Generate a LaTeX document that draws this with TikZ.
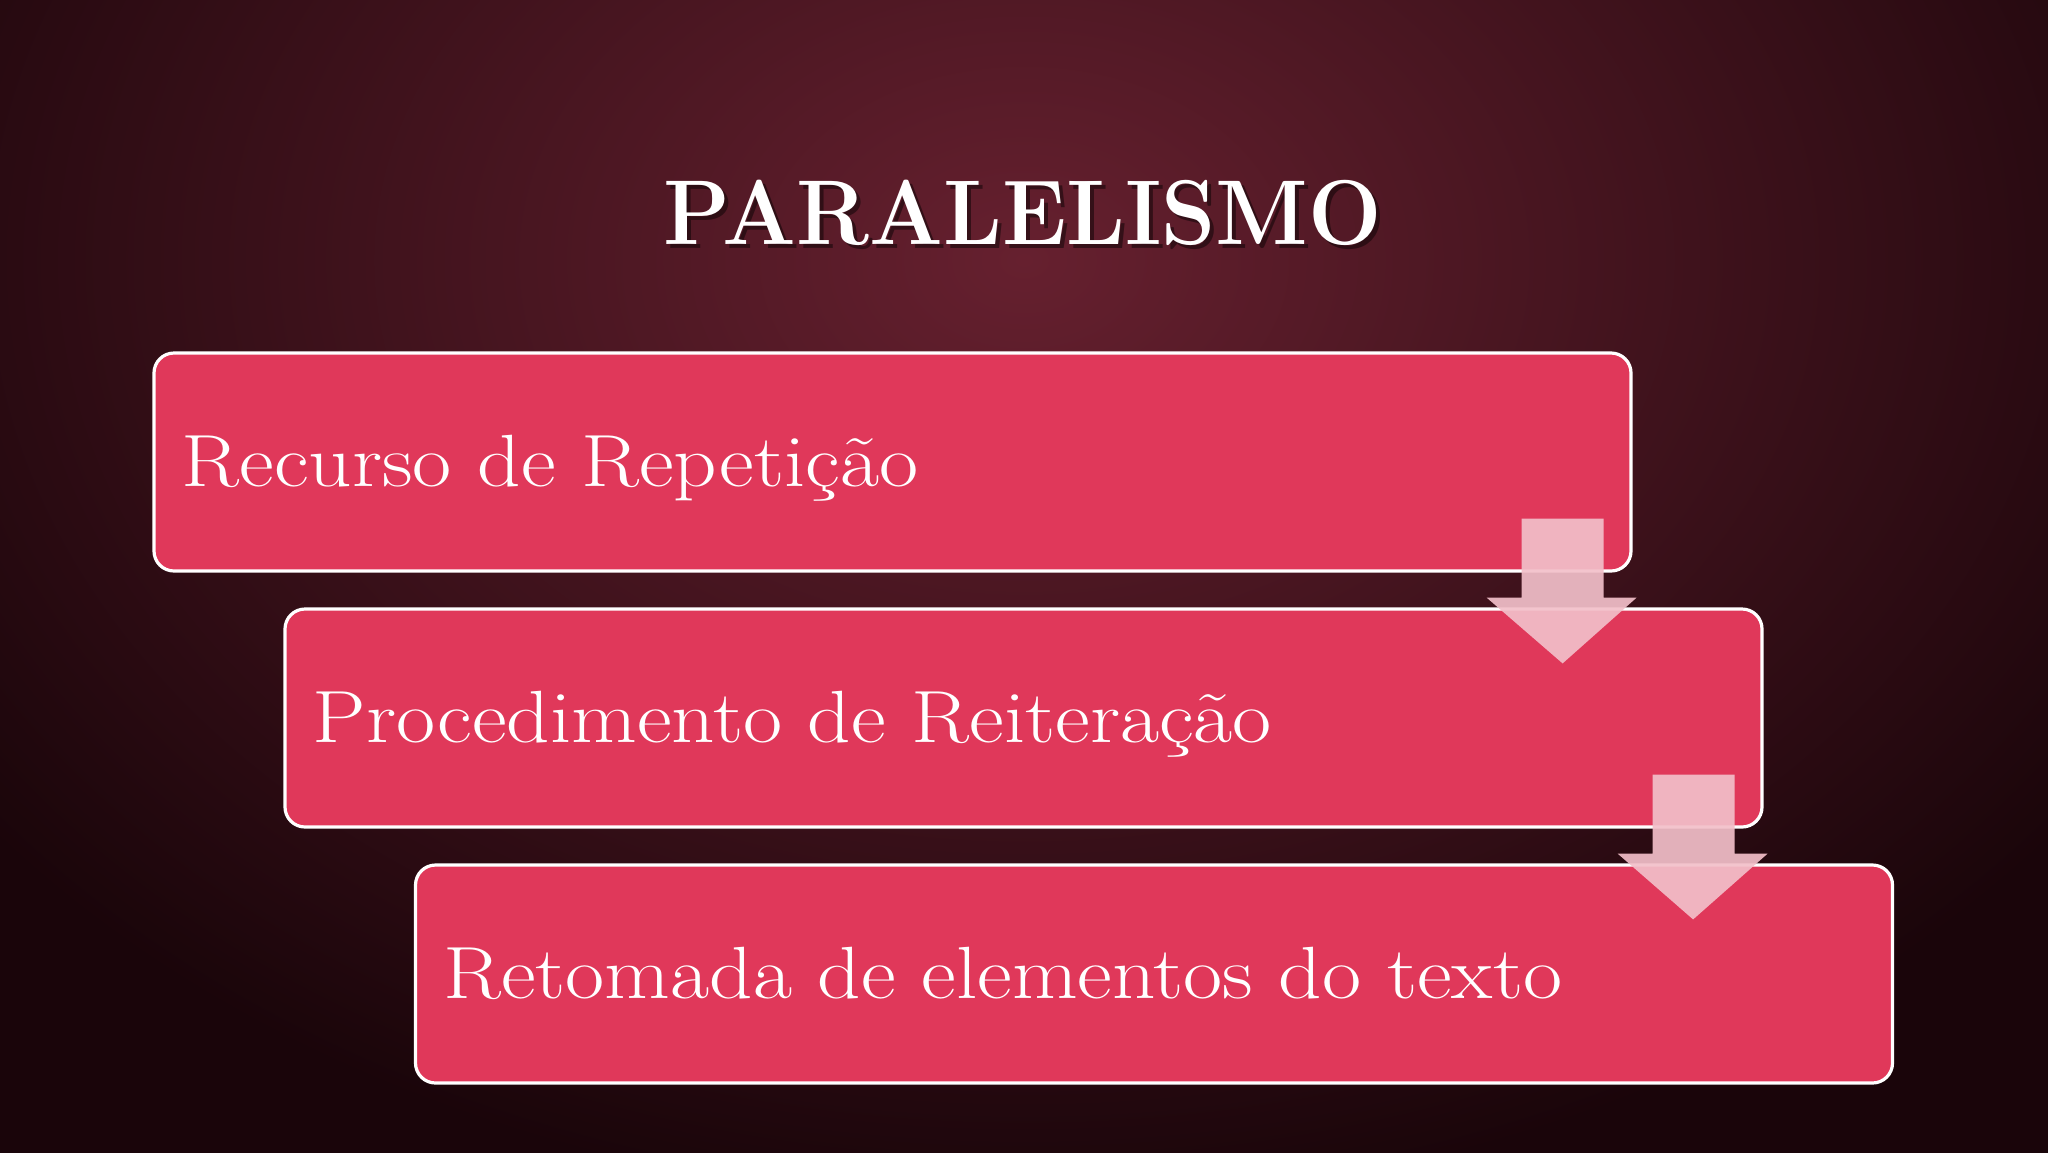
\documentclass[tikz,border=0pt]{standalone}
\usetikzlibrary{calc}
\definecolor{bgout}{HTML}{1A050A}
\definecolor{bgin}{HTML}{66202F}
\definecolor{boxfill}{HTML}{E0385A}
\definecolor{arrowfill}{HTML}{F2BFC9}
\tikzset{
  stepbox/.style={draw=white, line width=1.6pt, fill=boxfill, rounded corners=10pt,
    rectangle, minimum width=738.5pt, minimum height=109pt, inner sep=0pt},
  boxtext/.style={anchor=base west, text=white, inner sep=0pt,
    font=\fontsize{37}{40}\selectfont},
  blockarrow/.style={fill=arrowfill, fill opacity=0.92, draw=none}
}
\newcommand{\widetext}[1]{\scalebox{1.15}[1]{#1}}
\begin{document}
\begin{tikzpicture}[x=0.5pt,y=-0.5pt]
\useasboundingbox (0,0) rectangle (2048,1152);
\fill[bgout] (-10,-10) rectangle (2058,1162);
\begin{scope}
\clip (-10,-10) rectangle (2058,1162);
\shade[inner color=bgin, outer color=bgout] (1024,260) ellipse [x radius=1300, y radius=950];
\end{scope}
% title
\node[anchor=base, text=black, opacity=0.45, inner sep=0pt,
  font=\fontsize{46}{50}\selectfont\bfseries] at (1027,248) {\scalebox{0.945}[1]{PARALELISMO}};
\node (title) [anchor=base, text=white, inner sep=0pt,
  font=\fontsize{46}{50}\selectfont\bfseries] at (1023,244) {\scalebox{0.945}[1]{PARALELISMO}};
% boxes
\node (b1) [stepbox] at (892.5,462) {};
\node (b2) [stepbox] at (1023.5,718) {};
\node (b3) [stepbox] at (1154,974) {};
\node (t1) [boxtext] at ($(b1.west)+(29,24)$) {\widetext{Recurso de Repetição}};
\node (t2) [boxtext] at ($(b2.west)+(29,24)$) {\widetext{Procedimento de Reiteração}};
\node (t3) [boxtext] at ($(b3.west)+(29,24)$) {\widetext{Retomada de elementos do texto}};
% block arrows
\foreach \a/\b in {b1/b2, b2/b3}{
  \fill[blockarrow] ($(\a.south east)+(-111,-54)$) -- ($(\a.south east)+(-29,-54)$)
    -- ($(\a.south east)+(-29,25)$) -- ($(\a.south east)+(4,25)$)
    -- ($(\b.north east)+(-201,56)$) -- ($(\a.south east)+(-146,25)$)
    -- ($(\a.south east)+(-111,25)$) -- cycle;
}
\end{tikzpicture}
\end{document}
